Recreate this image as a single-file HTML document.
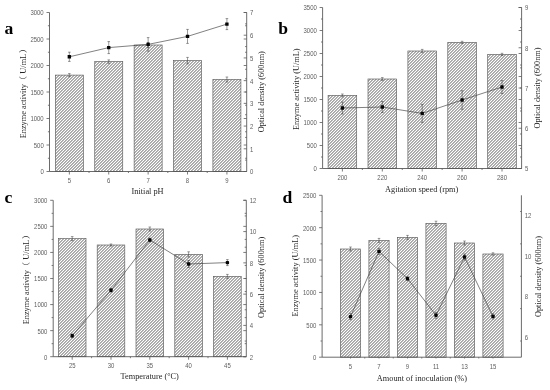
<!DOCTYPE html>
<html><head><meta charset="utf-8"><title>Figure</title>
<style>
html,body{margin:0;padding:0;background:#fff}
svg{display:block}
.t{font-family:"Liberation Sans",sans-serif;font-size:6.5px;fill:#5e5e5e}
.s{font-family:"Liberation Serif","Noto Serif CJK SC",serif;font-size:8.3px;fill:#262626}
.p{font-family:"Liberation Serif",serif;font-weight:bold;font-size:17.6px;fill:#000}
</style></head><body>
<svg width="550" height="390" viewBox="0 0 550 390">
<defs>
<pattern id="h" width="3" height="3" patternUnits="userSpaceOnUse" shape-rendering="crispEdges">
<rect width="3" height="3" fill="#fff"/>
<path d="M1 0h1v1h-1zM0 1h1v1h-1zM2 2h1v1h-1z" fill="#a4a4a4"/>
<path d="M2 0h1v1h-1zM1 1h1v1h-1zM0 2h1v1h-1z" fill="#bababa"/>
</pattern>
</defs>
<rect width="550" height="390" fill="#fff"/>
<g>
<rect x="55.35" y="75.1" width="28" height="96.4" fill="url(#h)"/>
<rect x="55.35" y="75.1" width="28" height="96.4" fill="none" stroke="#5a5a5a" stroke-width="0.65"/>
<rect x="94.74" y="61.6" width="28" height="109.9" fill="url(#h)"/>
<rect x="94.74" y="61.6" width="28" height="109.9" fill="none" stroke="#5a5a5a" stroke-width="0.65"/>
<rect x="134.13" y="45" width="28" height="126.5" fill="url(#h)"/>
<rect x="134.13" y="45" width="28" height="126.5" fill="none" stroke="#5a5a5a" stroke-width="0.65"/>
<rect x="173.52" y="60.6" width="28" height="110.9" fill="url(#h)"/>
<rect x="173.52" y="60.6" width="28" height="110.9" fill="none" stroke="#5a5a5a" stroke-width="0.65"/>
<rect x="212.91" y="79.5" width="28" height="92" fill="url(#h)"/>
<rect x="212.91" y="79.5" width="28" height="92" fill="none" stroke="#5a5a5a" stroke-width="0.65"/>
<path d="M69.35 73.6V76.6M68.05 73.6h2.6M68.05 76.6h2.6" stroke="#3a3a3a" stroke-width="0.5" fill="none"/>
<path d="M108.74 59.9V63.3M107.44 59.9h2.6M107.44 63.3h2.6" stroke="#3a3a3a" stroke-width="0.5" fill="none"/>
<path d="M148.13 42.5V47.5M146.83 42.5h2.6M146.83 47.5h2.6" stroke="#3a3a3a" stroke-width="0.5" fill="none"/>
<path d="M187.52 57.4V63.8M186.22 57.4h2.6M186.22 63.8h2.6" stroke="#3a3a3a" stroke-width="0.5" fill="none"/>
<path d="M226.91 77V82M225.61 77h2.6M225.61 82h2.6" stroke="#3a3a3a" stroke-width="0.5" fill="none"/>
<path d="M49.5 12.5V171.5H246.7V12.5" stroke="#505050" stroke-width="0.85" fill="none"/>
<text transform="translate(43.7 174.4) scale(0.92 1)" text-anchor="end" class="t">0</text>
<text transform="translate(43.7 147.9) scale(0.92 1)" text-anchor="end" class="t">500</text>
<text transform="translate(43.7 121.4) scale(0.92 1)" text-anchor="end" class="t">1000</text>
<text transform="translate(43.7 94.9) scale(0.92 1)" text-anchor="end" class="t">1500</text>
<text transform="translate(43.7 68.4) scale(0.92 1)" text-anchor="end" class="t">2000</text>
<text transform="translate(43.7 41.9) scale(0.92 1)" text-anchor="end" class="t">2500</text>
<text transform="translate(43.7 15.4) scale(0.92 1)" text-anchor="end" class="t">3000</text>
<text transform="translate(250.1 174.4) scale(0.92 1)" class="t">0</text>
<text transform="translate(250.1 151.69) scale(0.92 1)" class="t">1</text>
<text transform="translate(250.1 128.97) scale(0.92 1)" class="t">2</text>
<text transform="translate(250.1 106.26) scale(0.92 1)" class="t">3</text>
<text transform="translate(250.1 83.54) scale(0.92 1)" class="t">4</text>
<text transform="translate(250.1 60.83) scale(0.92 1)" class="t">5</text>
<text transform="translate(250.1 38.11) scale(0.92 1)" class="t">6</text>
<text transform="translate(250.1 15.4) scale(0.92 1)" class="t">7</text>
<text transform="translate(69.35 182.8) scale(0.92 1)" text-anchor="middle" class="t">5</text>
<text transform="translate(108.74 182.8) scale(0.92 1)" text-anchor="middle" class="t">6</text>
<text transform="translate(148.13 182.8) scale(0.92 1)" text-anchor="middle" class="t">7</text>
<text transform="translate(187.52 182.8) scale(0.92 1)" text-anchor="middle" class="t">8</text>
<text transform="translate(226.91 182.8) scale(0.92 1)" text-anchor="middle" class="t">9</text>
<path d="M49.5 171.5h-3M246.7 171.5h-3M49.5 158.25h-1.6M246.7 158.25h-1.6M49.5 145h-3M246.7 145h-3M49.5 131.75h-1.6M246.7 131.75h-1.6M49.5 118.5h-3M246.7 118.5h-3M49.5 105.25h-1.6M246.7 105.25h-1.6M49.5 92h-3M246.7 92h-3M49.5 78.75h-1.6M246.7 78.75h-1.6M49.5 65.5h-3M246.7 65.5h-3M49.5 52.25h-1.6M246.7 52.25h-1.6M49.5 39h-3M246.7 39h-3M49.5 25.75h-1.6M246.7 25.75h-1.6M49.5 12.5h-3M246.7 12.5h-3M246.7 171.5h-3M246.7 160.14h-1.6M246.7 148.79h-3M246.7 137.43h-1.6M246.7 126.07h-3M246.7 114.71h-1.6M246.7 103.36h-3M246.7 92h-1.6M246.7 80.64h-3M246.7 69.29h-1.6M246.7 57.93h-3M246.7 46.57h-1.6M246.7 35.21h-3M246.7 23.86h-1.6M246.7 12.5h-3M69.35 171.5v3M89.04 171.5v1.5M108.74 171.5v3M128.44 171.5v1.5M148.13 171.5v3M167.82 171.5v1.5M187.52 171.5v3M207.21 171.5v1.5M226.91 171.5v3" stroke="#5a5a5a" stroke-width="0.8" fill="none"/>
<polyline points="69.35,56.8 108.74,47.6 148.13,44.4 187.52,36.4 226.91,24.1" stroke="#3c3c3c" stroke-width="0.65" fill="none"/>
<path d="M69.35 52.2V61.4M68.05 52.2h2.6M68.05 61.4h2.6M108.74 41.6V53.6M107.44 41.6h2.6M107.44 53.6h2.6M148.13 37.6V51.2M146.83 37.6h2.6M146.83 51.2h2.6M187.52 29.4V43.4M186.22 29.4h2.6M186.22 43.4h2.6M226.91 18.6V29.6M225.61 18.6h2.6M225.61 29.6h2.6" stroke="#333" stroke-width="0.5" fill="none"/>
<rect x="67.65" y="55.1" width="3.4" height="3.4" rx="0.3" fill="#050505"/>
<rect x="107.04" y="45.9" width="3.4" height="3.4" rx="0.3" fill="#050505"/>
<rect x="146.43" y="42.7" width="3.4" height="3.4" rx="0.3" fill="#050505"/>
<rect x="185.82" y="34.7" width="3.4" height="3.4" rx="0.3" fill="#050505"/>
<rect x="225.21" y="22.4" width="3.4" height="3.4" rx="0.3" fill="#050505"/>
<text x="147.6" y="194.3" text-anchor="middle" class="s">Initial pH</text>
<text transform="translate(26 91.5) rotate(-90)" text-anchor="middle" class="s">Enzyme activity（<tspan dx="2.2">U/mL</tspan><tspan dx="0.8">）</tspan></text>
<text transform="translate(264 91.7) rotate(-90)" text-anchor="middle" class="s">Optical density (600nm)</text>
<text x="4.6" y="34" class="p">a</text>
</g>
<g>
<rect x="328.1" y="95.4" width="28.6" height="73.1" fill="url(#h)"/>
<rect x="328.1" y="95.4" width="28.6" height="73.1" fill="none" stroke="#5a5a5a" stroke-width="0.65"/>
<rect x="368" y="79" width="28.6" height="89.5" fill="url(#h)"/>
<rect x="368" y="79" width="28.6" height="89.5" fill="none" stroke="#5a5a5a" stroke-width="0.65"/>
<rect x="407.9" y="51" width="28.6" height="117.5" fill="url(#h)"/>
<rect x="407.9" y="51" width="28.6" height="117.5" fill="none" stroke="#5a5a5a" stroke-width="0.65"/>
<rect x="447.8" y="42.4" width="28.6" height="126.1" fill="url(#h)"/>
<rect x="447.8" y="42.4" width="28.6" height="126.1" fill="none" stroke="#5a5a5a" stroke-width="0.65"/>
<rect x="487.7" y="54.4" width="28.6" height="114.1" fill="url(#h)"/>
<rect x="487.7" y="54.4" width="28.6" height="114.1" fill="none" stroke="#5a5a5a" stroke-width="0.65"/>
<path d="M342.4 94V96.8M341.1 94h2.6M341.1 96.8h2.6" stroke="#3a3a3a" stroke-width="0.5" fill="none"/>
<path d="M382.3 77.6V80.4M381 77.6h2.6M381 80.4h2.6" stroke="#3a3a3a" stroke-width="0.5" fill="none"/>
<path d="M422.2 49.4V52.6M420.9 49.4h2.6M420.9 52.6h2.6" stroke="#3a3a3a" stroke-width="0.5" fill="none"/>
<path d="M462.1 41.3V43.5M460.8 41.3h2.6M460.8 43.5h2.6" stroke="#3a3a3a" stroke-width="0.5" fill="none"/>
<path d="M502 53.3V55.5M500.7 53.3h2.6M500.7 55.5h2.6" stroke="#3a3a3a" stroke-width="0.5" fill="none"/>
<path d="M322.6 7.5V168.5H521.6V7.5" stroke="#505050" stroke-width="0.85" fill="none"/>
<text transform="translate(316.8 171.4) scale(0.92 1)" text-anchor="end" class="t">0</text>
<text transform="translate(316.8 148.4) scale(0.92 1)" text-anchor="end" class="t">500</text>
<text transform="translate(316.8 125.4) scale(0.92 1)" text-anchor="end" class="t">1000</text>
<text transform="translate(316.8 102.4) scale(0.92 1)" text-anchor="end" class="t">1500</text>
<text transform="translate(316.8 79.4) scale(0.92 1)" text-anchor="end" class="t">2000</text>
<text transform="translate(316.8 56.4) scale(0.92 1)" text-anchor="end" class="t">2500</text>
<text transform="translate(316.8 33.4) scale(0.92 1)" text-anchor="end" class="t">3000</text>
<text transform="translate(316.8 10.4) scale(0.92 1)" text-anchor="end" class="t">3500</text>
<text transform="translate(525 171.4) scale(0.92 1)" class="t">5</text>
<text transform="translate(525 131.15) scale(0.92 1)" class="t">6</text>
<text transform="translate(525 90.9) scale(0.92 1)" class="t">7</text>
<text transform="translate(525 50.65) scale(0.92 1)" class="t">8</text>
<text transform="translate(525 10.4) scale(0.92 1)" class="t">9</text>
<text transform="translate(342.4 180.2) scale(0.92 1)" text-anchor="middle" class="t">200</text>
<text transform="translate(382.3 180.2) scale(0.92 1)" text-anchor="middle" class="t">220</text>
<text transform="translate(422.2 180.2) scale(0.92 1)" text-anchor="middle" class="t">240</text>
<text transform="translate(462.1 180.2) scale(0.92 1)" text-anchor="middle" class="t">260</text>
<text transform="translate(502 180.2) scale(0.92 1)" text-anchor="middle" class="t">280</text>
<path d="M322.6 168.5h-3M521.6 168.5h-3M322.6 157h-1.6M521.6 157h-1.6M322.6 145.5h-3M521.6 145.5h-3M322.6 134h-1.6M521.6 134h-1.6M322.6 122.5h-3M521.6 122.5h-3M322.6 111h-1.6M521.6 111h-1.6M322.6 99.5h-3M521.6 99.5h-3M322.6 88h-1.6M521.6 88h-1.6M322.6 76.5h-3M521.6 76.5h-3M322.6 65h-1.6M521.6 65h-1.6M322.6 53.5h-3M521.6 53.5h-3M322.6 42h-1.6M521.6 42h-1.6M322.6 30.5h-3M521.6 30.5h-3M322.6 19h-1.6M521.6 19h-1.6M322.6 7.5h-3M521.6 7.5h-3M521.6 168.5h-3M521.6 148.38h-1.6M521.6 128.25h-3M521.6 108.12h-1.6M521.6 88h-3M521.6 67.88h-1.6M521.6 47.75h-3M521.6 27.62h-1.6M521.6 7.5h-3M342.4 168.5v3M362.35 168.5v1.5M382.3 168.5v3M402.25 168.5v1.5M422.2 168.5v3M442.15 168.5v1.5M462.1 168.5v3M482.05 168.5v1.5M502 168.5v3" stroke="#5a5a5a" stroke-width="0.8" fill="none"/>
<polyline points="342.4,108 382.3,107 422.2,113.4 462.1,100 502,87" stroke="#3c3c3c" stroke-width="0.65" fill="none"/>
<path d="M342.4 102V114M341.1 102h2.6M341.1 114h2.6M382.3 101.5V112.5M381 101.5h2.6M381 112.5h2.6M422.2 104.4V122.4M420.9 104.4h2.6M420.9 122.4h2.6M462.1 90.7V109.3M460.8 90.7h2.6M460.8 109.3h2.6M502 80.5V93.5M500.7 80.5h2.6M500.7 93.5h2.6" stroke="#333" stroke-width="0.5" fill="none"/>
<rect x="340.7" y="106.3" width="3.4" height="3.4" rx="0.3" fill="#050505"/>
<rect x="380.6" y="105.3" width="3.4" height="3.4" rx="0.3" fill="#050505"/>
<rect x="420.5" y="111.7" width="3.4" height="3.4" rx="0.3" fill="#050505"/>
<rect x="460.4" y="98.3" width="3.4" height="3.4" rx="0.3" fill="#050505"/>
<rect x="500.3" y="85.3" width="3.4" height="3.4" rx="0.3" fill="#050505"/>
<text x="421.7" y="191.6" text-anchor="middle" class="s">Agitation speed (rpm)</text>
<text transform="translate(298.6 89.3) rotate(-90)" text-anchor="middle" class="s">Enzyme activity (U/mL)</text>
<text transform="translate(540 88) rotate(-90)" text-anchor="middle" class="s">Optical density (600nm)</text>
<text x="278.2" y="34" class="p">b</text>
</g>
<g>
<rect x="58.4" y="238.6" width="27.6" height="118.1" fill="url(#h)"/>
<rect x="58.4" y="238.6" width="27.6" height="118.1" fill="none" stroke="#5a5a5a" stroke-width="0.65"/>
<rect x="97.2" y="245" width="27.6" height="111.7" fill="url(#h)"/>
<rect x="97.2" y="245" width="27.6" height="111.7" fill="none" stroke="#5a5a5a" stroke-width="0.65"/>
<rect x="136" y="229" width="27.6" height="127.7" fill="url(#h)"/>
<rect x="136" y="229" width="27.6" height="127.7" fill="none" stroke="#5a5a5a" stroke-width="0.65"/>
<rect x="174.8" y="254.4" width="27.6" height="102.3" fill="url(#h)"/>
<rect x="174.8" y="254.4" width="27.6" height="102.3" fill="none" stroke="#5a5a5a" stroke-width="0.65"/>
<rect x="213.6" y="276.4" width="27.6" height="80.3" fill="url(#h)"/>
<rect x="213.6" y="276.4" width="27.6" height="80.3" fill="none" stroke="#5a5a5a" stroke-width="0.65"/>
<path d="M72.2 236.6V240.6M70.9 236.6h2.6M70.9 240.6h2.6" stroke="#3a3a3a" stroke-width="0.5" fill="none"/>
<path d="M111 244V246M109.7 244h2.6M109.7 246h2.6" stroke="#3a3a3a" stroke-width="0.5" fill="none"/>
<path d="M149.8 227V231M148.5 227h2.6M148.5 231h2.6" stroke="#3a3a3a" stroke-width="0.5" fill="none"/>
<path d="M188.6 251.8V257M187.3 251.8h2.6M187.3 257h2.6" stroke="#3a3a3a" stroke-width="0.5" fill="none"/>
<path d="M227.4 274.4V278.4M226.1 274.4h2.6M226.1 278.4h2.6" stroke="#3a3a3a" stroke-width="0.5" fill="none"/>
<path d="M53.2 200.3V356.7H246.3V200.3" stroke="#505050" stroke-width="0.85" fill="none"/>
<text transform="translate(47.4 359.6) scale(0.92 1)" text-anchor="end" class="t">0</text>
<text transform="translate(47.4 333.53) scale(0.92 1)" text-anchor="end" class="t">500</text>
<text transform="translate(47.4 307.47) scale(0.92 1)" text-anchor="end" class="t">1000</text>
<text transform="translate(47.4 281.4) scale(0.92 1)" text-anchor="end" class="t">1500</text>
<text transform="translate(47.4 255.33) scale(0.92 1)" text-anchor="end" class="t">2000</text>
<text transform="translate(47.4 229.27) scale(0.92 1)" text-anchor="end" class="t">2500</text>
<text transform="translate(47.4 203.2) scale(0.92 1)" text-anchor="end" class="t">3000</text>
<text transform="translate(249.7 359.6) scale(0.92 1)" class="t">2</text>
<text transform="translate(249.7 328.32) scale(0.92 1)" class="t">4</text>
<text transform="translate(249.7 297.04) scale(0.92 1)" class="t">6</text>
<text transform="translate(249.7 265.76) scale(0.92 1)" class="t">8</text>
<text transform="translate(249.7 234.48) scale(0.92 1)" class="t">10</text>
<text transform="translate(249.7 203.2) scale(0.92 1)" class="t">12</text>
<text transform="translate(72.2 367.8) scale(0.92 1)" text-anchor="middle" class="t">25</text>
<text transform="translate(111 367.8) scale(0.92 1)" text-anchor="middle" class="t">30</text>
<text transform="translate(149.8 367.8) scale(0.92 1)" text-anchor="middle" class="t">35</text>
<text transform="translate(188.6 367.8) scale(0.92 1)" text-anchor="middle" class="t">40</text>
<text transform="translate(227.4 367.8) scale(0.92 1)" text-anchor="middle" class="t">45</text>
<path d="M53.2 356.7h-3M246.3 356.7h-3M53.2 343.67h-1.6M246.3 343.67h-1.6M53.2 330.63h-3M246.3 330.63h-3M53.2 317.6h-1.6M246.3 317.6h-1.6M53.2 304.57h-3M246.3 304.57h-3M53.2 291.53h-1.6M246.3 291.53h-1.6M53.2 278.5h-3M246.3 278.5h-3M53.2 265.47h-1.6M246.3 265.47h-1.6M53.2 252.43h-3M246.3 252.43h-3M53.2 239.4h-1.6M246.3 239.4h-1.6M53.2 226.37h-3M246.3 226.37h-3M53.2 213.33h-1.6M246.3 213.33h-1.6M53.2 200.3h-3M246.3 200.3h-3M246.3 356.7h-3M246.3 341.06h-1.6M246.3 325.42h-3M246.3 309.78h-1.6M246.3 294.14h-3M246.3 278.5h-1.6M246.3 262.86h-3M246.3 247.22h-1.6M246.3 231.58h-3M246.3 215.94h-1.6M246.3 200.3h-3M72.2 356.7v3M91.6 356.7v1.5M111 356.7v3M130.4 356.7v1.5M149.8 356.7v3M169.2 356.7v1.5M188.6 356.7v3M208 356.7v1.5M227.4 356.7v3" stroke="#5a5a5a" stroke-width="0.8" fill="none"/>
<polyline points="72.2,335.8 111,290.3 149.8,240 188.6,264 227.4,262.6" stroke="#3c3c3c" stroke-width="0.65" fill="none"/>
<path d="M72.2 334V337.6M70.9 334h2.6M70.9 337.6h2.6M111 288.5V292.1M109.7 288.5h2.6M109.7 292.1h2.6M149.8 238.2V241.8M148.5 238.2h2.6M148.5 241.8h2.6M188.6 260.5V267.5M187.3 260.5h2.6M187.3 267.5h2.6M227.4 259.6V265.6M226.1 259.6h2.6M226.1 265.6h2.6" stroke="#333" stroke-width="0.5" fill="none"/>
<rect x="70.5" y="334.1" width="3.4" height="3.4" rx="1.0" fill="#050505"/>
<rect x="109.3" y="288.6" width="3.4" height="3.4" rx="1.0" fill="#050505"/>
<rect x="148.1" y="238.3" width="3.4" height="3.4" rx="1.0" fill="#050505"/>
<rect x="186.9" y="262.3" width="3.4" height="3.4" rx="1.0" fill="#050505"/>
<rect x="225.7" y="260.9" width="3.4" height="3.4" rx="1.0" fill="#050505"/>
<text x="149.7" y="379.4" text-anchor="middle" class="s">Temperature (°C)</text>
<text transform="translate(29.2 277.5) rotate(-90)" text-anchor="middle" class="s">Enzyme activity（<tspan dx="2.2">U/mL</tspan><tspan dx="0.8">）</tspan></text>
<text transform="translate(263.6 277.4) rotate(-90)" text-anchor="middle" class="s">Optical density (600nm)</text>
<text x="4.6" y="203" class="p">c</text>
</g>
<g>
<rect x="340.4" y="249" width="20.2" height="108.2" fill="url(#h)"/>
<rect x="340.4" y="249" width="20.2" height="108.2" fill="none" stroke="#5a5a5a" stroke-width="0.65"/>
<rect x="368.9" y="240.4" width="20.2" height="116.8" fill="url(#h)"/>
<rect x="368.9" y="240.4" width="20.2" height="116.8" fill="none" stroke="#5a5a5a" stroke-width="0.65"/>
<rect x="397.4" y="237.4" width="20.2" height="119.8" fill="url(#h)"/>
<rect x="397.4" y="237.4" width="20.2" height="119.8" fill="none" stroke="#5a5a5a" stroke-width="0.65"/>
<rect x="425.9" y="223.4" width="20.2" height="133.8" fill="url(#h)"/>
<rect x="425.9" y="223.4" width="20.2" height="133.8" fill="none" stroke="#5a5a5a" stroke-width="0.65"/>
<rect x="454.4" y="243" width="20.2" height="114.2" fill="url(#h)"/>
<rect x="454.4" y="243" width="20.2" height="114.2" fill="none" stroke="#5a5a5a" stroke-width="0.65"/>
<rect x="482.9" y="254" width="20.2" height="103.2" fill="url(#h)"/>
<rect x="482.9" y="254" width="20.2" height="103.2" fill="none" stroke="#5a5a5a" stroke-width="0.65"/>
<path d="M350.5 247V251M349.2 247h2.6M349.2 251h2.6" stroke="#3a3a3a" stroke-width="0.5" fill="none"/>
<path d="M379 238.4V242.4M377.7 238.4h2.6M377.7 242.4h2.6" stroke="#3a3a3a" stroke-width="0.5" fill="none"/>
<path d="M407.5 235.4V239.4M406.2 235.4h2.6M406.2 239.4h2.6" stroke="#3a3a3a" stroke-width="0.5" fill="none"/>
<path d="M436 221.2V225.6M434.7 221.2h2.6M434.7 225.6h2.6" stroke="#3a3a3a" stroke-width="0.5" fill="none"/>
<path d="M464.5 241V245M463.2 241h2.6M463.2 245h2.6" stroke="#3a3a3a" stroke-width="0.5" fill="none"/>
<path d="M493 252.8V255.2M491.7 252.8h2.6M491.7 255.2h2.6" stroke="#3a3a3a" stroke-width="0.5" fill="none"/>
<path d="M322.1 195.3V357.2H521.4V195.3" stroke="#505050" stroke-width="0.85" fill="none"/>
<text transform="translate(316.3 360.1) scale(0.92 1)" text-anchor="end" class="t">0</text>
<text transform="translate(316.3 327.72) scale(0.92 1)" text-anchor="end" class="t">500</text>
<text transform="translate(316.3 295.34) scale(0.92 1)" text-anchor="end" class="t">1000</text>
<text transform="translate(316.3 262.96) scale(0.92 1)" text-anchor="end" class="t">1500</text>
<text transform="translate(316.3 230.58) scale(0.92 1)" text-anchor="end" class="t">2000</text>
<text transform="translate(316.3 198.2) scale(0.92 1)" text-anchor="end" class="t">2500</text>
<text transform="translate(524.8 339.86) scale(0.92 1)" class="t">6</text>
<text transform="translate(524.8 299.39) scale(0.92 1)" class="t">8</text>
<text transform="translate(524.8 258.91) scale(0.92 1)" class="t">10</text>
<text transform="translate(524.8 218.44) scale(0.92 1)" class="t">12</text>
<text transform="translate(350.5 368.8) scale(0.92 1)" text-anchor="middle" class="t">5</text>
<text transform="translate(379 368.8) scale(0.92 1)" text-anchor="middle" class="t">7</text>
<text transform="translate(407.5 368.8) scale(0.92 1)" text-anchor="middle" class="t">9</text>
<text transform="translate(436 368.8) scale(0.92 1)" text-anchor="middle" class="t">11</text>
<text transform="translate(464.5 368.8) scale(0.92 1)" text-anchor="middle" class="t">13</text>
<text transform="translate(493 368.8) scale(0.92 1)" text-anchor="middle" class="t">15</text>
<path d="M322.1 357.2h-3M322.1 341.01h-1.6M521.4 341.01h-1.3M322.1 324.82h-3M322.1 308.63h-1.6M521.4 308.63h-1.3M322.1 292.44h-3M322.1 276.25h-1.6M521.4 276.25h-1.3M322.1 260.06h-3M322.1 243.87h-1.6M521.4 243.87h-1.3M322.1 227.68h-3M322.1 211.49h-1.6M521.4 211.49h-1.3M322.1 195.3h-3M350.5 357.2v1.3M364.75 357.2v1.3M379 357.2v1.3M393.25 357.2v1.3M407.5 357.2v1.3M421.75 357.2v1.3M436 357.2v1.3M450.25 357.2v1.3M464.5 357.2v1.3M478.75 357.2v1.3M493 357.2v1.3" stroke="#5a5a5a" stroke-width="0.8" fill="none"/>
<polyline points="350.5,316.6 379,251.4 407.5,278.6 436,315.3 464.5,257 493,316.4" stroke="#3c3c3c" stroke-width="0.65" fill="none"/>
<path d="M350.5 313.6V319.6M349.2 313.6h2.6M349.2 319.6h2.6M379 248.4V254.4M377.7 248.4h2.6M377.7 254.4h2.6M407.5 276.6V280.6M406.2 276.6h2.6M406.2 280.6h2.6M436 312.3V318.3M434.7 312.3h2.6M434.7 318.3h2.6M464.5 254V260M463.2 254h2.6M463.2 260h2.6M493 313.9V318.9M491.7 313.9h2.6M491.7 318.9h2.6" stroke="#333" stroke-width="0.5" fill="none"/>
<rect x="348.8" y="314.9" width="3.4" height="3.4" rx="0.9" fill="#050505"/>
<rect x="377.3" y="249.7" width="3.4" height="3.4" rx="0.9" fill="#050505"/>
<rect x="405.8" y="276.9" width="3.4" height="3.4" rx="0.9" fill="#050505"/>
<rect x="434.3" y="313.6" width="3.4" height="3.4" rx="0.9" fill="#050505"/>
<rect x="462.8" y="255.3" width="3.4" height="3.4" rx="0.9" fill="#050505"/>
<rect x="491.3" y="314.7" width="3.4" height="3.4" rx="0.9" fill="#050505"/>
<text x="421.9" y="380.7" text-anchor="middle" class="s">Amount of inoculation (%)</text>
<text transform="translate(298.1 275.8) rotate(-90)" text-anchor="middle" class="s">Enzyme activity (U/mL)</text>
<text transform="translate(540.6 276.5) rotate(-90)" text-anchor="middle" class="s">Optical density (600nm)</text>
<text x="282.6" y="202.6" class="p">d</text>
</g>
</svg>
</body></html>
